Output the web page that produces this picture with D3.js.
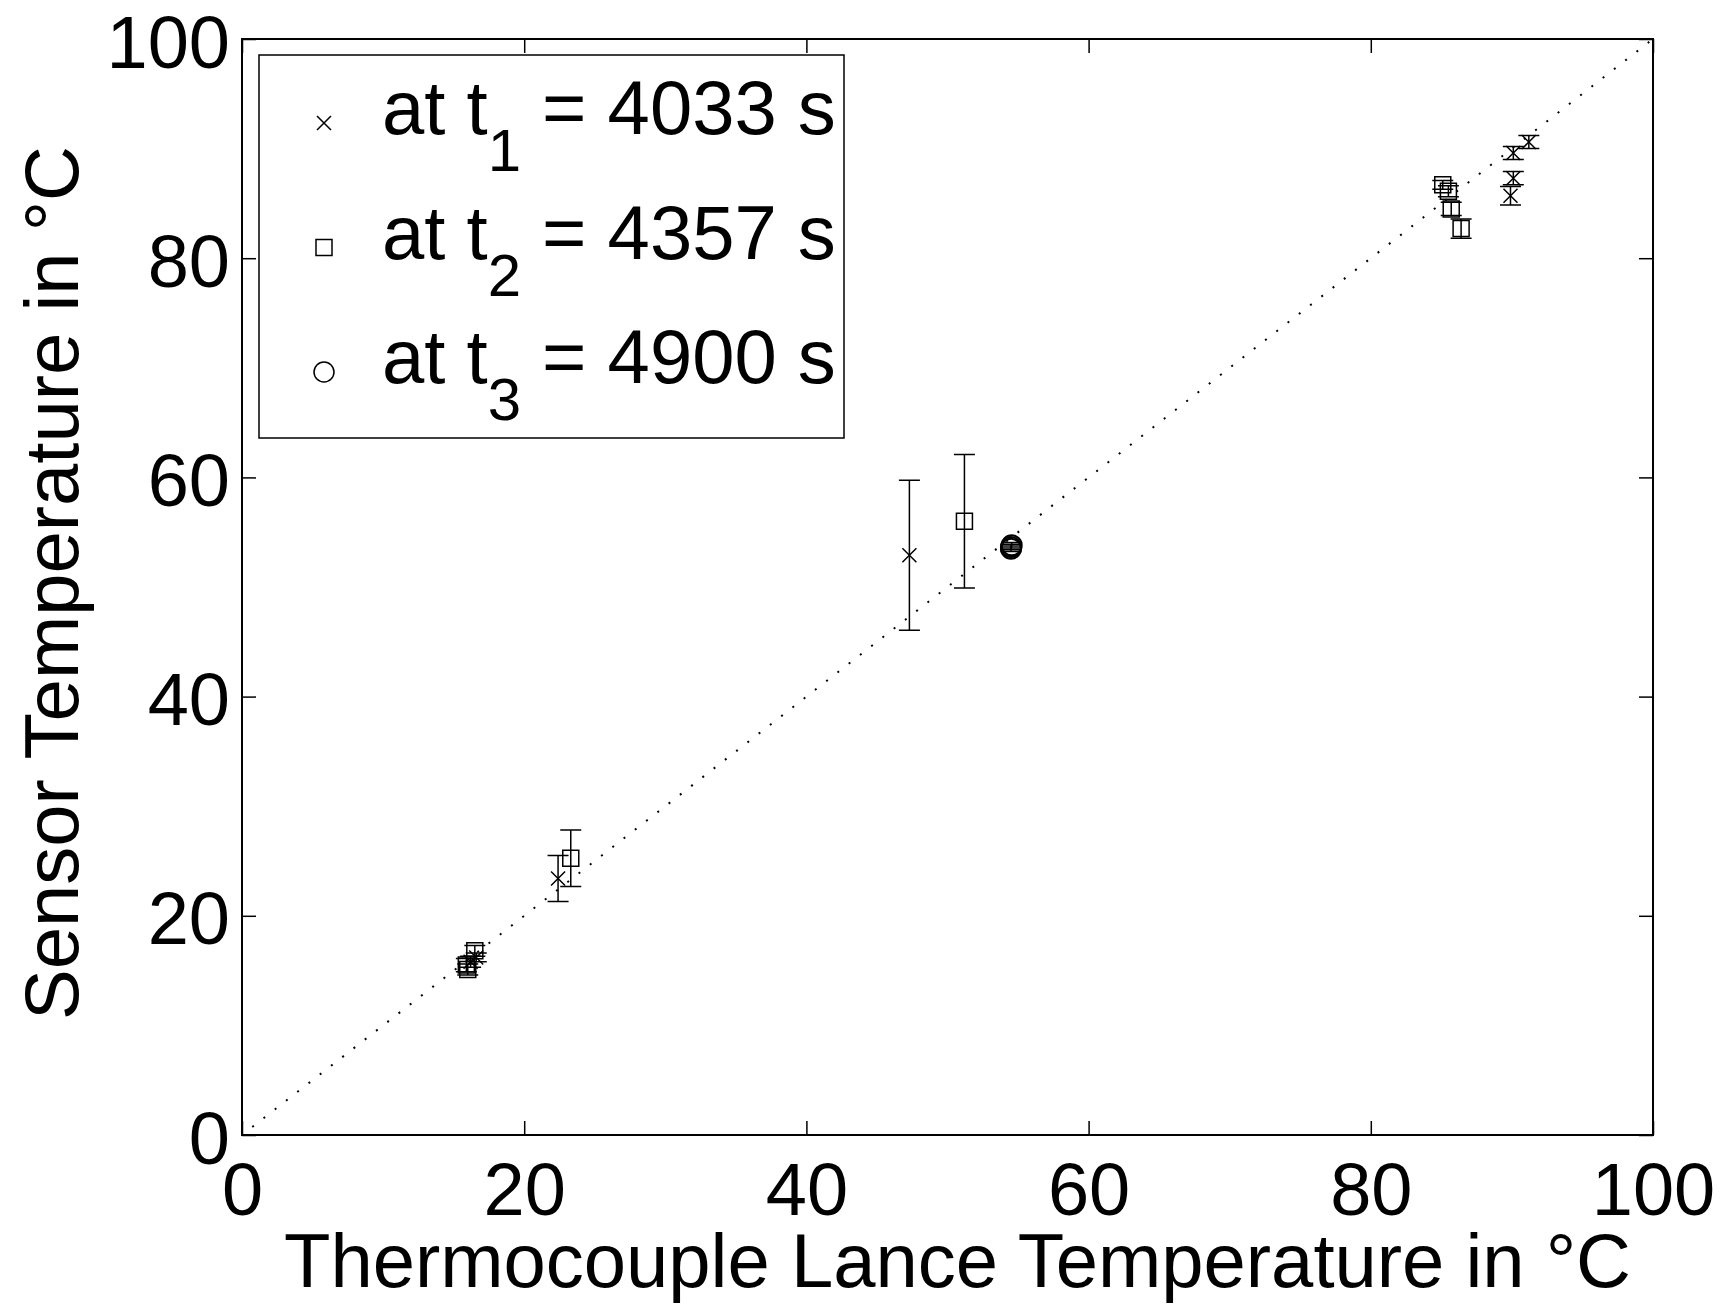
<!DOCTYPE html>
<html lang="en">
<head>
  <meta charset="UTF-8">
  <title>Sensor vs Thermocouple</title>
  <style>
    html, body {
      margin: 0;
      padding: 0;
      background: #fff;
    }
    svg text {
      font-family: "Liberation Sans", Arial, Helvetica, sans-serif;
      fill: #000;
    }
    .axis path {
      display: none;
    }
    .axis line {
      stroke: #000;
      stroke-width: 1.5px;
    }
    .axis text {
      font-size: 74px;
    }
  </style>
</head>
<body>
  <svg id="chart" width="1730" height="1311"></svg>
  <script src="https://cdn.jsdelivr.net/npm/d3@7/dist/d3.min.js"></script>
  <script>
    // values: [lance temp, sensor temp, error +/-]
    const t1X = [16.2, 16.6, 22.4, 47.3, 89.9, 90.1, 90.1, 91.2]
    const t1Y = [15.8, 16.2, 23.4, 52.9, 85.7, 87.3, 89.6, 90.6]
    const t1E = [0.5, 0.4, 2.1, 6.85, 0.85, 0.6, 0.6, 0.6]

    const t2X = [15.9, 16.0, 16.5, 23.3, 51.2, 85.1, 85.5, 85.7, 86.4]
    const t2Y = [15.5, 15.1, 16.8, 25.25, 56.0, 86.7, 86.1, 84.5, 82.7]
    const t2E = [0.6, 0.5, 0.5, 2.57, 6.1, 0.4, 0.5, 0.6, 0.87]

    const t3X = [54.5, 54.5, 54.55]
    const t3Y = [53.5, 53.65, 53.8]
    const t3E = [0.25, 0.25, 0.25]

    const tickValues = [0, 20, 40, 60, 80, 100]
    const legendLabels = [
      {pre: 'at t', sub: '1', post: ' = 4033 s', marker: 'x'},
      {pre: 'at t', sub: '2', post: ' = 4357 s', marker: 'square'},
      {pre: 'at t', sub: '3', post: ' = 4900 s', marker: 'circle'}
    ]

    const margin = {left: 242, top: 39}
    const width = 1411
    const height = 1096
    const capHalf = 10.5

    const svg = d3.select('#chart')
    const g = svg.append('g')
      .attr('transform', `translate(${margin.left},${margin.top})`)

    const x = d3.scaleLinear().domain([0, 100]).range([0, width])
    const y = d3.scaleLinear().domain([0, 100]).range([height, 0])

    // axes with inward ticks on all four sides
    g.append('g')
      .attr('class', 'axis')
      .attr('transform', `translate(0,${height})`)
      .call(d3.axisBottom(x).tickValues(tickValues).tickSizeInner(-14).tickSizeOuter(0))
      .selectAll('text')
      .attr('y', 80)
      .attr('dy', null)

    g.append('g')
      .attr('class', 'axis')
      .call(d3.axisLeft(y).tickValues(tickValues).tickSizeInner(-14).tickSizeOuter(0))
      .selectAll('text')
      .attr('x', -12)
      .attr('y', 28)
      .attr('dy', null)

    g.append('g')
      .attr('class', 'axis')
      .call(d3.axisTop(x).tickValues(tickValues).tickSizeInner(-14).tickSizeOuter(0).tickFormat(''))

    g.append('g')
      .attr('class', 'axis')
      .attr('transform', `translate(${width},0)`)
      .call(d3.axisRight(y).tickValues(tickValues).tickSizeInner(-14).tickSizeOuter(0).tickFormat(''))

    // y = x reference line, dotted
    g.append('line')
      .attr('x1', x(0))
      .attr('y1', y(0))
      .attr('x2', x(100))
      .attr('y2', y(100))
      .attr('stroke', '#000')
      .attr('stroke-width', 2)
      .attr('stroke-dasharray', '2,12.25')
      .attr('stroke-dashoffset', -13)

    function markerPath(type, cx, cy) {
      if (type === 'x') {
        const s = 7
        return `M${cx - s},${cy - s}L${cx + s},${cy + s}M${cx - s},${cy + s}L${cx + s},${cy - s}`
      }
      if (type === 'square') {
        const s = 8
        return `M${cx - s},${cy - s}H${cx + s}V${cy + s}H${cx - s}Z`
      }
      const r = 10
      return `M${cx - r},${cy}A${r},${r} 0 1,0 ${cx + r},${cy}A${r},${r} 0 1,0 ${cx - r},${cy}Z`
    }

    function drawSeries(xs, ys, es, type, sw) {
      const data = xs.map((v, i) => ({x: v, y: ys[i], e: es[i]}))
      const s = g.append('g')

      s.selectAll('.err')
        .data(data)
        .enter()
        .append('path')
        .attr('class', 'err')
        .attr('fill', 'none')
        .attr('stroke', '#000')
        .attr('stroke-width', 1.5)
        .attr('d', function(d) {
          const cx = x(d.x)
          const top = y(d.y + d.e)
          const bot = y(d.y - d.e)
          return `M${cx},${top}V${bot}` +
            `M${cx - capHalf},${top}H${cx + capHalf}` +
            `M${cx - capHalf},${bot}H${cx + capHalf}`
        })

      s.selectAll('.mark')
        .data(data)
        .enter()
        .append('path')
        .attr('class', 'mark')
        .attr('fill', 'none')
        .attr('stroke', '#000')
        .attr('stroke-width', sw)
        .attr('d', function(d) { return markerPath(type, x(d.x), y(d.y)) })
    }

    drawSeries(t1X, t1Y, t1E, 'x', 1.5)
    drawSeries(t2X, t2Y, t2E, 'square', 1.5)
    drawSeries(t3X, t3Y, t3E, 'circle', 2)

    // box
    g.append('rect')
      .attr('width', width)
      .attr('height', height)
      .attr('fill', 'none')
      .attr('stroke', '#000')
      .attr('stroke-width', 2)

    // legend
    const legend = svg.append('g').attr('transform', 'translate(259,55)')
    legend.append('rect')
      .attr('width', 585)
      .attr('height', 383)
      .attr('fill', '#fff')
      .attr('stroke', '#000')
      .attr('stroke-width', 1.5)

    const rows = legend.selectAll('.row')
      .data(legendLabels)
      .enter()
      .append('g')
      .attr('class', 'row')
      .attr('transform', function(d, i) { return `translate(0,${68 + i * 124.5})` })

    rows.append('path')
      .attr('fill', 'none')
      .attr('stroke', '#000')
      .attr('stroke-width', 1.5)
      .attr('d', function(d) { return markerPath(d.marker, 65, 0) })

    const txt = rows.append('text')
      .attr('x', 123)
      .attr('y', 11)
      .style('font-size', '76px')
    txt.append('tspan').text(function(d) { return d.pre })
    txt.append('tspan')
      .attr('dy', 37)
      .style('font-size', '60px')
      .text(function(d) { return d.sub })
    txt.append('tspan')
      .attr('dy', -37)
      .text(function(d) { return d.post })

    // axis titles
    svg.append('text')
      .attr('x', margin.left + width / 2 + 10)
      .attr('y', 1287)
      .attr('text-anchor', 'middle')
      .style('font-size', '76px')
      .text('Thermocouple Lance Temperature in °C')

    svg.append('text')
      .attr('transform', `translate(78,${margin.top + height / 2 - 4}) rotate(-90)`)
      .attr('text-anchor', 'middle')
      .style('font-size', '76px')
      .text('Sensor Temperature in °C')
  </script>
</body>
</html>
